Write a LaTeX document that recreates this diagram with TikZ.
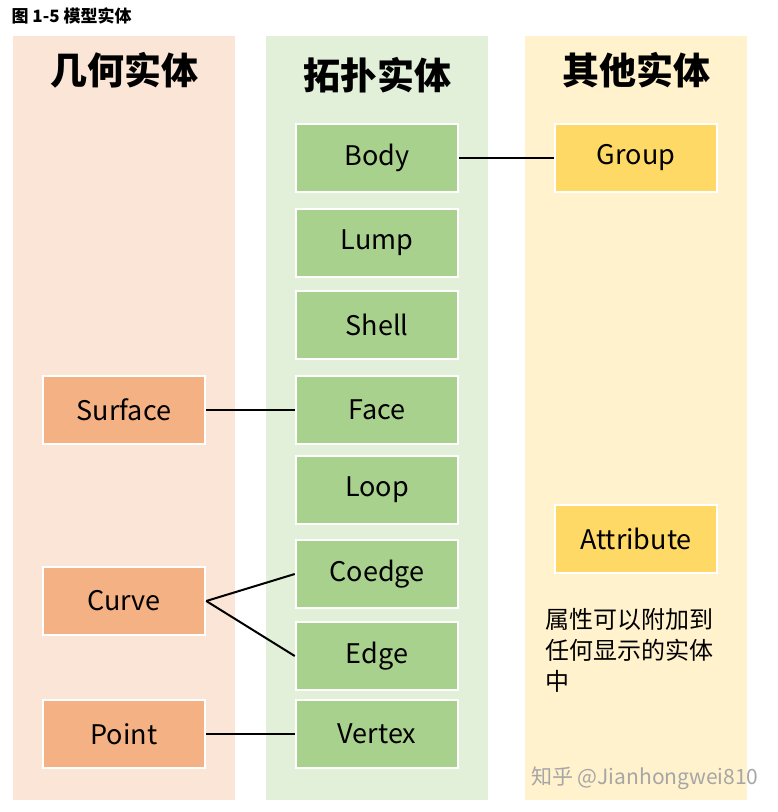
\documentclass[tikz,border=0pt]{standalone}
\usepackage{fontspec}
\setmainfont{Noto Sans CJK SC}
\definecolor{topoC}{HTML}{A9D18E}
\definecolor{geoC}{HTML}{F4B183}
\definecolor{othC}{HTML}{FFD966}
\definecolor{bgA}{HTML}{FBE5D6}
\definecolor{bgB}{HTML}{E2F0D9}
\definecolor{bgC}{HTML}{FFF2CC}
\begin{document}
\begin{tikzpicture}[x=1pt,y=-1pt,
  box/.style={draw=white,line width=2.5pt,minimum width=162pt,minimum height=68pt,font=\fontsize{27}{27}\selectfont,inner sep=0pt},
  topo/.style={box,fill=topoC},
  geo/.style={box,fill=geoC},
  oth/.style={box,fill=othC},
  head/.style={font=\fontsize{37}{37}\selectfont\bfseries},
  link/.style={line width=2pt,black}]
\useasboundingbox (0,0) rectangle (778,812);
\fill[white] (0,0) rectangle (778,812);
\fill[bgA] (13,36) rectangle (235,800);
\fill[bgB] (266,36) rectangle (488,800);
\fill[bgC] (525,36) rectangle (747,800);
\node[anchor=west,font=\fontsize{17}{17}\selectfont\bfseries] (title) at (8,16) {图 1-5 模型实体};
\node[head] (h1) at (124,70) {几何实体};
\node[head] (h2) at (377,75) {拓扑实体};
\node[head] (h3) at (636,70) {其他实体};
\node[topo] (body) at (377,158) {Body};
\node[topo] (lump) at (377,243) {Lump};
\node[topo] (shell) at (377,325) {Shell};
\node[topo] (face) at (377,410) {Face};
\node[topo] (loop) at (377,490) {Loop};
\node[topo] (coedge) at (377,574) {Coedge};
\node[topo] (edge) at (377,656) {Edge};
\node[topo] (vertex) at (377,734) {Vertex};
\node[geo] (surface) at (124,410) {Surface};
\node[geo] (curve) at (124,601) {Curve};
\node[geo] (point) at (124,734) {Point};
\node[oth] (group) at (636,158) {Group};
\node[oth] (attr) at (636,539) {Attribute};
\node[anchor=north west,align=left,font=\fontsize{24}{31}\selectfont] (note) at (542,605) {属性可以附加到\\任何显示的实体\\中};
\node[anchor=east,text=gray!70,font=\fontsize{21}{21}\selectfont] (wm) at (762,778) {知乎 @Jianhongwei810};
\draw[link] (body.east) -- (group.west);
\draw[link] (surface.east) -- (face.west);
\draw[link] (curve.east) -- (coedge.west);
\draw[link] (curve.east) -- (edge.west);
\draw[link] (point.east) -- (vertex.west);
\end{tikzpicture}
\end{document}
